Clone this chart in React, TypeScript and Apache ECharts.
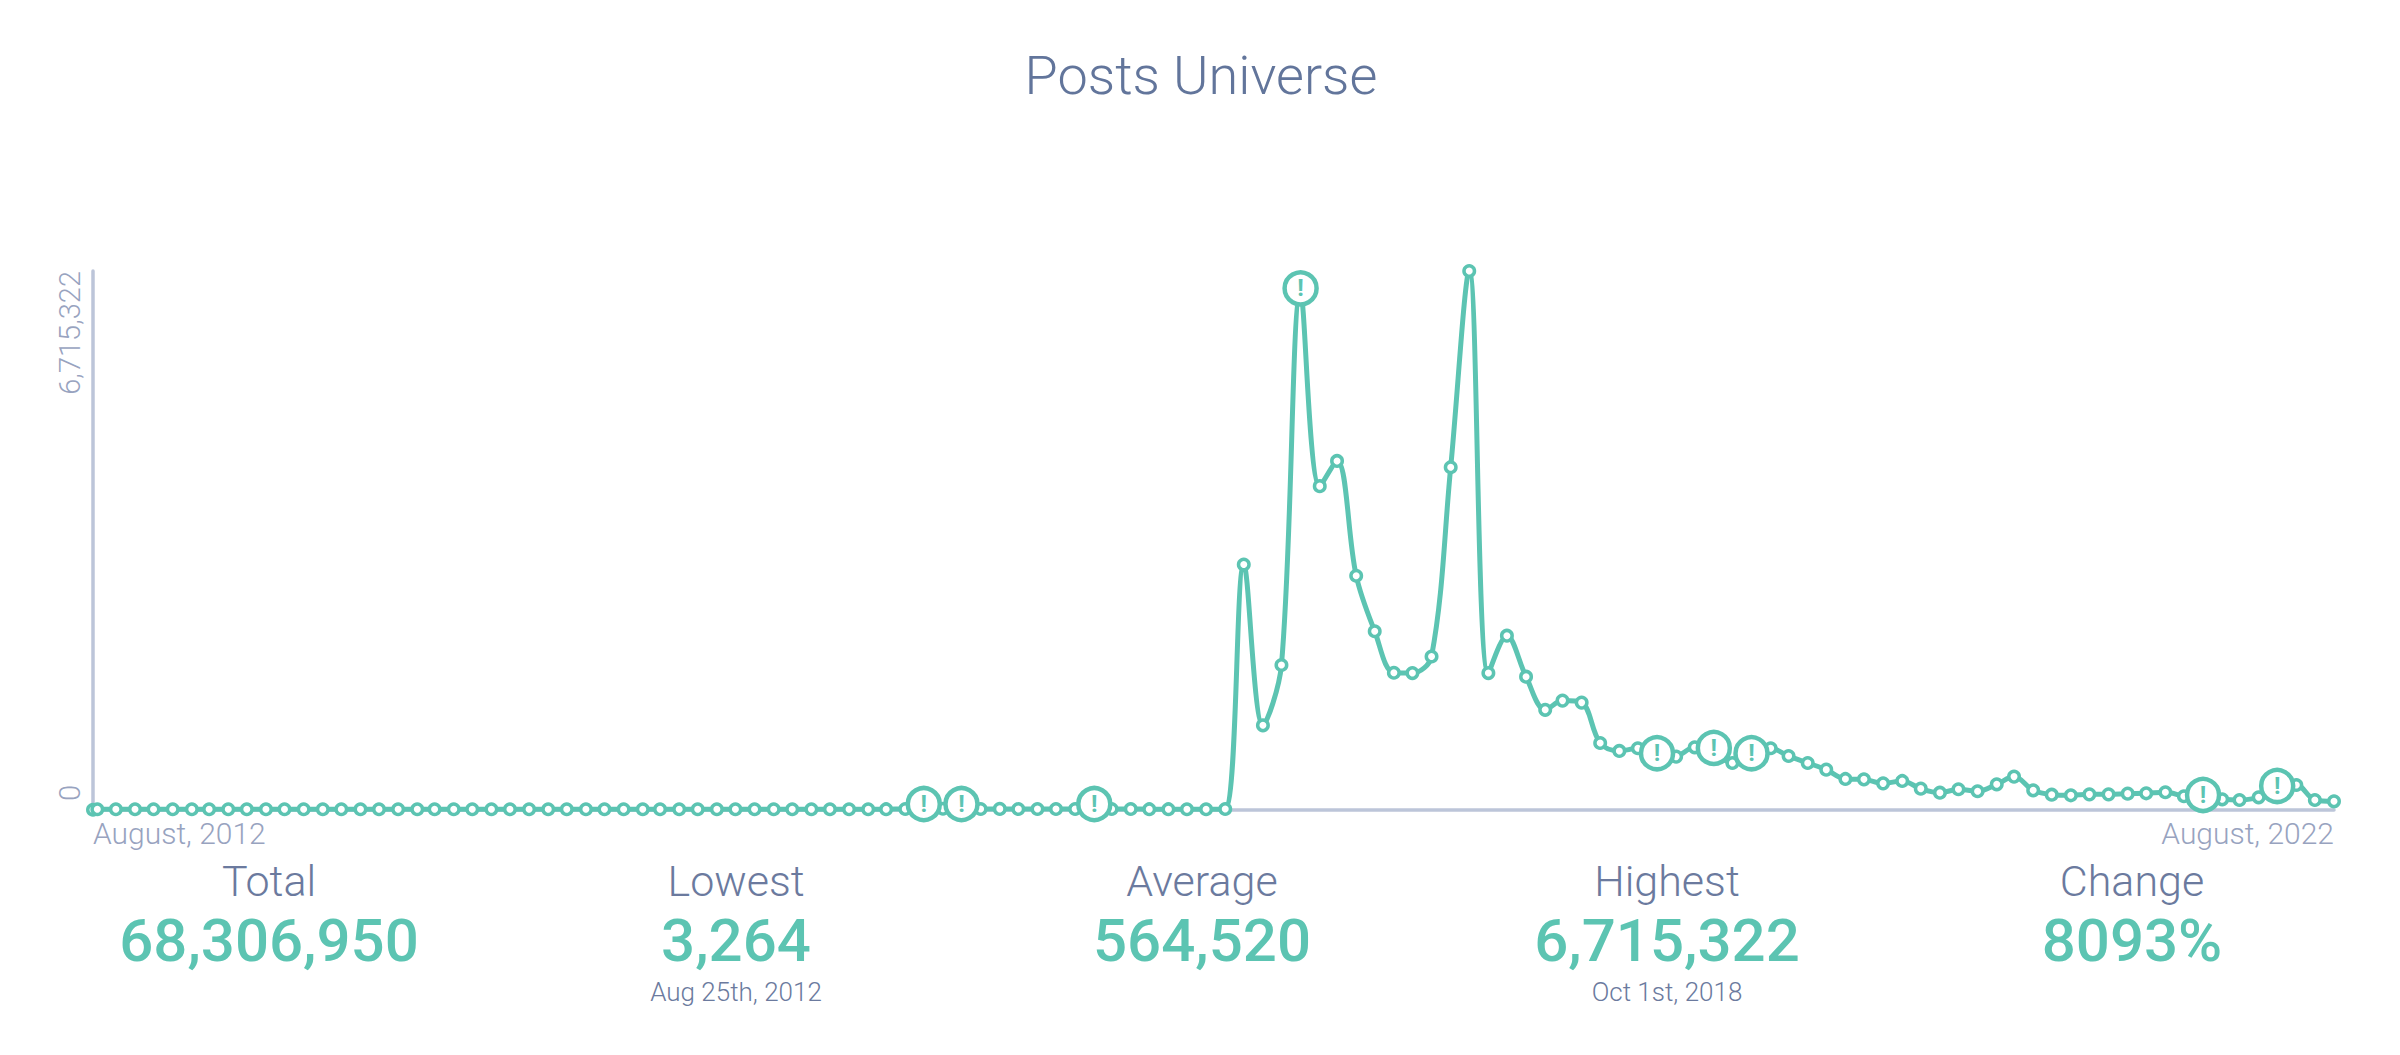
import React, { useEffect, useRef } from "react";
import * as echarts from "echarts";

const FONT = "Roboto";
const TEAL = "#5cc4b2";
const AXIS = "#bcc5d9";
const MUTED = "#98a3bf";
const SLATE = "#6b7a9e";

const chartTitle = "Posts Universe";
const firstPointDate = "2012-08-25";
const firstPointValue = 3264;
const maxValue = 6715322;
const xTickLabels = ["August, 2012", "August, 2022"];

// Monthly values; each row starts at the month named in the comment.
const values2012 = [9000, 9000, 9000, 9000]; // Sep 2012 - Dec 2012
const values2013 = [9000, 9000, 9000, 9000, 9000, 9000, 9000, 9000, 9000, 9000, 9000, 9000];
const values2014 = [9000, 9000, 9000, 9000, 9000, 9000, 9000, 9000, 9000, 9000, 9000, 9000];
const values2015 = [9000, 9000, 9000, 9000, 9000, 9000, 9000, 9000, 9000, 9000, 9000, 9000];
const values2016 = [9000, 9000, 10000, 12000, 12000, 15000, 12000, 12000, 14000, 12000, 12000, 12000];
const values2017 = [12000, 12000, 12000, 12000, 10000, 10000, 9000, 9000, 12000, 3058000, 1055000, 1807000];
const values2018 = [6437000, 4035000, 4349000, 2919000, 2227000, 1710000, 1706000, 1913000, 4271000, 6715322, 1706000, 2172000];
const values2019 = [1661000, 1248000, 1363000, 1338000, 835000, 736000, 769000, 645000, 665000, 781000, 711000, 586000];
const values2020 = [645000, 769000, 673000, 586000, 503000, 387000, 382000, 332000, 362000, 266000, 216000, 258000];
const values2021 = [233000, 320000, 416000, 245000, 191000, 183000, 195000, 195000, 204000, 208000, 221000, 171000];
const values2022 = [125000, 133000, 125000, 158000, 237000, 312000, 125000, 108000]; // Jan 2022 - Aug 2022

const flagMonths = ["2016-05-01", "2016-07-01", "2017-02-01", "2018-01-01", "2019-08-01", "2019-11-01", "2020-01-01", "2022-01-01", "2022-05-01"];

const statLabels = ["Total", "Lowest", "Average", "Highest", "Change"];
const statValues = ["68,306,950", "3,264", "564,520", "6,715,322", "8093%"];
const statNotes = ["", "Aug 25th, 2012", "", "Oct 1st, 2018", ""];
const statCenters = [269, 736, 1202, 1667, 2132];

const monthly = [...values2012, ...values2013, ...values2014, ...values2015, ...values2016, ...values2017, ...values2018, ...values2019, ...values2020, ...values2021, ...values2022];

const toIso = (i: number) => {
  const m = 8 + i; // month index from Jan 2012 (8 = Sep 2012)
  const y = 2012 + Math.floor(m / 12);
  return `${y}-${String((m % 12) + 1).padStart(2, "0")}-01`;
};
const ms = (iso: string) => new Date(iso + "T00:00:00Z").getTime();

const points: [number, number][] = [[ms(firstPointDate), firstPointValue], ...monthly.map((v, i) => [ms(toIso(i)), v] as [number, number])];
const xMin = points[0][0];
const xMax = points[points.length - 1][0];
const flagPoints = flagMonths.map((iso) => points.find((p) => p[0] === ms(iso))!);

export default function App() {
  const ref = useRef<HTMLDivElement>(null);
  useEffect(() => {
    const chart = echarts.init(ref.current!, undefined, { renderer: "svg" });
    const statText: any[] = [];
    statLabels.forEach((label, i) => {
      const x = statCenters[i];
      statText.push({ type: "text", x, y: 881, style: { text: label, font: `300 43px ${FONT}`, fill: SLATE, align: "center", verticalAlign: "middle" } });
      statText.push({ type: "text", x, y: 940, style: { text: statValues[i], font: `500 60px ${FONT}`, fill: TEAL, align: "center", verticalAlign: "middle" } });
      if (statNotes[i]) statText.push({ type: "text", x, y: 992, style: { text: statNotes[i], font: `300 26px ${FONT}`, fill: SLATE, align: "center", verticalAlign: "middle" } });
    });
    chart.setOption({
      animation: false,
      backgroundColor: "#fff",
      textStyle: { fontFamily: FONT },
      title: {
        text: chartTitle,
        left: 1196,
        textAlign: "center",
        top: 43,
        textStyle: { fontFamily: FONT, fontWeight: 300, fontSize: 54, color: "#62759b" },
      },
      grid: { left: 93, right: 2400 - 2334, top: 271, bottom: 1055 - 810, containLabel: false },
      xAxis: {
        type: "value",
        min: xMin,
        max: xMax,
        scale: true,
        splitLine: { show: false },
        axisTick: { show: false },
        axisLine: { show: true, lineStyle: { color: AXIS, width: 3.5 } },
        axisLabel: {
          show: true,
          customValues: [xMin, xMax],
          formatter: (v: number) => (v === xMin ? xTickLabels[0] : xTickLabels[1]),
          alignMinLabel: "left",
          alignMaxLabel: "right",
          showMinLabel: true,
          showMaxLabel: true,
          hideOverlap: false,
          margin: 8,
          fontFamily: FONT,
          fontWeight: 300,
          fontSize: 30,
          color: MUTED,
        },
      },
      yAxis: [
        {
          type: "value",
          min: 0,
          max: maxValue,
          splitLine: { show: false },
          axisTick: { show: false },
          axisLine: { show: true, onZero: false, lineStyle: { color: AXIS, width: 3.5 } },
          axisLabel: {
            show: true,
            customValues: [maxValue],
            rotate: 90,
            align: "right",
            verticalAlign: "bottom",
            margin: 9,
            fontFamily: FONT,
            fontWeight: 300,
            fontSize: 29,
            color: MUTED,
            formatter: (v: number) => v.toLocaleString("en-US"),
          },
        },
        {
          type: "value",
          position: "left",
          min: 0,
          max: maxValue,
          splitLine: { show: false },
          axisTick: { show: false },
          axisLine: { show: false },
          axisLabel: {
            show: true,
            customValues: [0],
            rotate: 90,
            align: "left",
            verticalAlign: "bottom",
            margin: 9,
            padding: [0, 0, 0, 9],
            fontFamily: FONT,
            fontWeight: 300,
            fontSize: 29,
            color: MUTED,
            formatter: (v: number) => String(v),
          },
        },
      ],
      series: [
        {
          type: "line",
          data: points,
          smooth: 0.35,
          clip: false,
          symbol: "circle",
          symbolSize: 10.5,
          showSymbol: true,
          lineStyle: { color: TEAL, width: 5 },
          itemStyle: { color: "#fff", borderColor: TEAL, borderWidth: 3.5 },
          z: 3,
        },
        {
          type: "scatter",
          data: flagPoints,
          clip: false,
          symbol: "circle",
          symbolSize: 32,
          symbolOffset: [0, -5],
          itemStyle: { color: "#fff", borderColor: TEAL, borderWidth: 4.5, opacity: 1 },
          label: {
            show: true,
            position: "inside",
            formatter: "!",
            fontFamily: FONT,
            fontWeight: 700,
            fontSize: 24,
            color: TEAL,
          },
          z: 4,
        },
      ],
      graphic: statText,
    });
    return () => chart.dispose();
  }, []);
  return <div ref={ref} style={{ position: "absolute", left: 0, top: 0, width: 2400, height: 1055 }} />;
}
